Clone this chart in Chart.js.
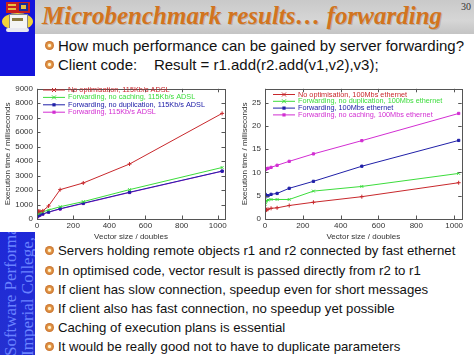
<!DOCTYPE html>
<html><head><meta charset="utf-8">
<script src="https://cdn.jsdelivr.net/npm/chart.js@4.4.1/dist/chart.umd.min.js"></script>
<style>
html,body{margin:0;padding:0;background:#fff;width:474px;height:355px;overflow:hidden;position:relative;font-family:"Liberation Sans",Arial,sans-serif}
.abs{position:absolute}
#sideTop{left:0;top:0;width:35px;height:76px;background:#1414dc}
#sideBot{left:0;top:232px;width:35px;height:123px;background:linear-gradient(#1e28d8,#2430d0)}
#titlebar{left:35px;top:0;width:439px;height:34px;background:linear-gradient(to bottom,#c9c9c9,#d6d6d6 60%,#c4c4c4)}
#title{left:42px;top:2px;font-family:"Liberation Serif","Times New Roman",serif;font-style:italic;font-weight:bold;font-size:25px;color:#d2741e;white-space:nowrap;text-shadow:1px 1px 0 rgba(120,70,20,0.25)}
#pg{left:461px;top:1px;font-family:"Liberation Serif",serif;font-size:10px;color:#333}
.b{position:absolute;white-space:nowrap;color:#111}
.b::before{content:"";position:absolute;left:-13px;top:50%;margin-top:-4.5px;width:9px;height:9px;border-radius:50%;background:radial-gradient(circle at 50% 50%,#fff3d0 0 18%,#e8a050 30%,#c8702a 70%,#b06020 100%)}
.t1{left:58px;font-size:15px}
.t2{left:58px;font-size:13.2px}
#vert{left:0;top:232px;width:35px;height:123px;overflow:hidden}
#vert div{position:absolute;font-family:"Liberation Serif",serif;font-size:17px;color:#6a82ff;white-space:nowrap;transform-origin:0 0;transform:rotate(-90deg)}
#c1{left:0;top:80px}
#c2{left:237px;top:80px}
</style></head><body>
<div class="abs" id="sideTop"></div>
<div class="abs" id="sideBot"></div>
<div class="abs" id="titlebar"></div>
<!-- crest -->
<div class="abs" style="left:6px;top:2px;width:24px;height:11px;background:#c81e1e"></div>
<div class="abs" style="left:8px;top:4px;width:8px;height:2px;background:#e8c040"></div>
<div class="abs" style="left:8px;top:8px;width:8px;height:2px;background:#e8c040"></div>
<div class="abs" style="left:19px;top:3px;width:9px;height:8px;background:#1a2a9a"></div>
<div class="abs" style="left:21px;top:5px;width:5px;height:4px;background:#e8c040"></div>
<div class="abs" style="left:2px;top:13px;width:31px;height:17px;border-radius:50%;background:#f2d23a"></div>
<div class="abs" style="left:9px;top:14px;width:17px;height:13px;background:#f4f4f4;border:1px solid #888"></div>
<div class="abs" style="left:12px;top:18px;width:11px;height:3px;background:#8a7a40"></div>
<div class="abs" style="left:6px;top:28px;width:23px;height:4px;background:#e8e8f0;border-radius:2px"></div>
<div class="abs" id="title">Microbenchmark results… forwarding</div>
<div class="abs" id="pg">30</div>
<div class="b t1" style="top:37px">How much performance can be gained by server forwarding?</div>
<div class="b t1" style="top:56px">Client code:&nbsp;&nbsp;&nbsp; Result = r1.add(r2.add(v1,v2),v3);</div>
<div class="b t2" style="top:243px">Servers holding remote objects r1 and r2 connected by fast ethernet</div>
<div class="b t2" style="top:263px">In optimised code, vector result is passed directly from r2 to r1</div>
<div class="b t2" style="top:282px">If client has slow connection, speedup even for short messages</div>
<div class="b t2" style="top:301px">If client also has fast connection, no speedup yet possible</div>
<div class="b t2" style="top:320px">Caching of execution plans is essential</div>
<div class="b t2" style="top:339px">It would be really good not to have to duplicate parameters</div>
<div class="abs" id="vert"><div style="left:1px;top:124px">Software Performance</div><div style="left:18px;top:124px">Imperial College,</div></div>
<canvas id="c1" class="abs" width="235" height="162" style="width:235px;height:162px"></canvas>
<canvas id="c2" class="abs" width="237" height="162" style="width:237px;height:162px"></canvas>
<script>
// ---- data ----
const vectorSizes = [1, 2, 4, 8, 16, 32, 64, 128, 256, 512, 1024];
const xTickValues = [0, 200, 400, 600, 800, 1000];

const adslLabels = ["No optimisation, 115Kb/s ADSL", "Forwarding, no caching, 115Kb/s ADSL", "Forwarding, no duplication, 115Kb/s ADSL", "Forwarding, 115Kb/s ADSL"];
const adslNoOpt = [520, 520, 530, 530, 540, 560, 900, 2030, 2490, 3800, 7300];
const adslNoCache = [380, 390, 400, 420, 450, 500, 620, 850, 1200, 2030, 3560];
const adslNoDup = [200, 210, 230, 250, 280, 350, 480, 710, 1090, 1850, 3310];
const adslFwd = [140, 160, 180, 210, 250, 330, 470, 690, 1070, 1830, 3300];
const adslYTicks = [0, 1000, 2000, 3000, 4000, 5000, 6000, 7000, 8000, 9000];

const ethLabels = ["No optimisation, 100Mbs ethernet", "Forwarding, no duplication, 100Mbs ethernet", "Forwarding, 100Mbs ethernet", "Forwarding, no caching, 100Mbs ethernet"];
const ethNoOpt = [1.7, 1.8, 1.9, 2.0, 2.1, 2.3, 2.4, 2.9, 3.6, 4.8, 7.8];
const ethNoDup = [3.2, 3.5, 3.8, 4.0, 4.1, 4.2, 4.2, 4.2, 6.0, 7.0, 9.8];
const ethFwd = [5.3, 5.1, 5.0, 5.0, 5.0, 5.3, 5.5, 6.6, 8.1, 11.35, 16.9];
const ethNoCache = [10.7, 10.7, 10.8, 10.8, 10.9, 11.1, 11.55, 12.4, 14.0, 16.85, 22.7];
const ethYTicks = [0, 5, 10, 15, 20, 25];

const RED = '#c8282c', GREEN = '#3cdc3c', BLUE = '#2020a8', MAG = '#d22ed2';

function pts(ys){ return vectorSizes.map((x,i)=>({x, y: ys[i]})); }
function ds(label, ys, color, style){
  return {label, data: pts(ys), borderColor: color, backgroundColor: color, borderWidth: 1,
    pointStyle: style, pointRadius: style==='rect'?1.6:2, pointBorderWidth: 1, tension: 0, fill:false};
}

const framePlugin = {
  id: 'frame',
  afterDatasetsDraw(chart){
    const {ctx, chartArea: a, scales} = chart;
    ctx.save();
    ctx.strokeStyle = '#555'; ctx.lineWidth = 1;
    ctx.strokeRect(Math.round(a.left)+0.5, Math.round(a.top)+0.5, Math.round(a.right-a.left), Math.round(a.bottom-a.top));
    const L = 3.5;
    ctx.beginPath();
    scales.x.ticks.forEach(t=>{ const p = Math.round(scales.x.getPixelForValue(t.value))+0.5;
      ctx.moveTo(p, a.bottom); ctx.lineTo(p, a.bottom-L); ctx.moveTo(p, a.top); ctx.lineTo(p, a.top+L); });
    scales.y.ticks.forEach(t=>{ const p = Math.round(scales.y.getPixelForValue(t.value))+0.5;
      ctx.moveTo(a.left, p); ctx.lineTo(a.left+L, p); ctx.moveTo(a.right, p); ctx.lineTo(a.right-L, p); });
    ctx.stroke();
    ctx.restore();
  }
};

const legendPlugin = {
  id: 'inLegend',
  afterDatasetsDraw(chart, args, o){
    const ctx = chart.ctx;
    ctx.save();
    ctx.font = '7.3px "Liberation Sans", Arial, sans-serif';
    ctx.textBaseline = 'middle';
    chart.data.datasets.forEach((d,i)=>{
      const y = o.y + i*o.step;
      ctx.strokeStyle = d.borderColor; ctx.lineWidth = 1;
      ctx.beginPath(); ctx.moveTo(o.x1, y+0.5); ctx.lineTo(o.x2, y+0.5); ctx.stroke();
      const m = (o.x1+o.x2)/2;
      ctx.fillStyle = d.borderColor;
      if (d.pointStyle==='rect') ctx.fillRect(m-1.6, y-1.1, 3.2, 3.2);
      else { ctx.beginPath(); ctx.moveTo(m-2,y-1.5); ctx.lineTo(m+2,y+2.5); ctx.moveTo(m+2,y-1.5); ctx.lineTo(m-2,y+2.5); ctx.stroke(); }
      ctx.fillText(d.label, o.tx, y+0.5);
    });
    ctx.restore();
  }
};

function makeChart(id, datasets, yMax, yTicks, yW, padRight, legend){
  const tickFont = {family:'"Liberation Sans", Arial, sans-serif', size: 8};
  return new Chart(document.getElementById(id), {
    type: 'line',
    data: {datasets},
    plugins: [framePlugin, legendPlugin],
    options: {
      responsive: false, animation: false, devicePixelRatio: 1,
      layout: {padding: {top: 4.5, right: padRight, left: 0, bottom: 0}},
      plugins: {legend: {display:false}, tooltip:{enabled:false}, inLegend: legend},
      scales: {
        x: {type:'linear', min:0, max:1040,
          afterBuildTicks(s){ s.ticks = xTickValues.map(v=>({value:v})); },
          ticks:{color:'#333', font:tickFont, padding:2, maxRotation:0, autoSkip:false, callback:v=>String(v)},
          grid:{display:false, drawTicks:false}, border:{display:false},
          title:{display:true, text:'Vector size / doubles', color:'#333', font:tickFont, padding:{top:0,bottom:0}},
          afterFit(s){ s.height = 23; }},
        y: {type:'linear', min:0, max:yMax,
          afterBuildTicks(s){ s.ticks = yTicks.map(v=>({value:v})); },
          ticks:{color:'#333', font:tickFont, padding:4, autoSkip:false, callback:v=>String(v)},
          grid:{display:false, drawTicks:false}, border:{display:false},
          title:{display:true, text:'Execution time / milliseconds', color:'#333', font:tickFont, padding:{top:3,bottom:0}},
          afterFit(s){ s.width = yW; }}
      }
    }
  });
}

makeChart('c1', [
  ds(adslLabels[0], adslNoOpt, RED, 'cross'),
  ds(adslLabels[1], adslNoCache, GREEN, 'crossRot'),
  ds(adslLabels[2], adslNoDup, BLUE, 'rect'),
  ds(adslLabels[3], adslFwd, MAG, 'rect')
], 9000, adslYTicks, 37, 10, {x1:43, x2:65, tx:68, y:9.5, step:7.4});

makeChart('c2', [
  ds(ethLabels[0], ethNoOpt, RED, 'cross'),
  ds(ethLabels[1], ethNoDup, GREEN, 'crossRot'),
  ds(ethLabels[2], ethFwd, BLUE, 'rect'),
  ds(ethLabels[3], ethNoCache, MAG, 'rect')
], 28, ethYTicks, 28, 12.3, {x1:36, x2:58, tx:61, y:14, step:6.8});
</script>
</body></html>
